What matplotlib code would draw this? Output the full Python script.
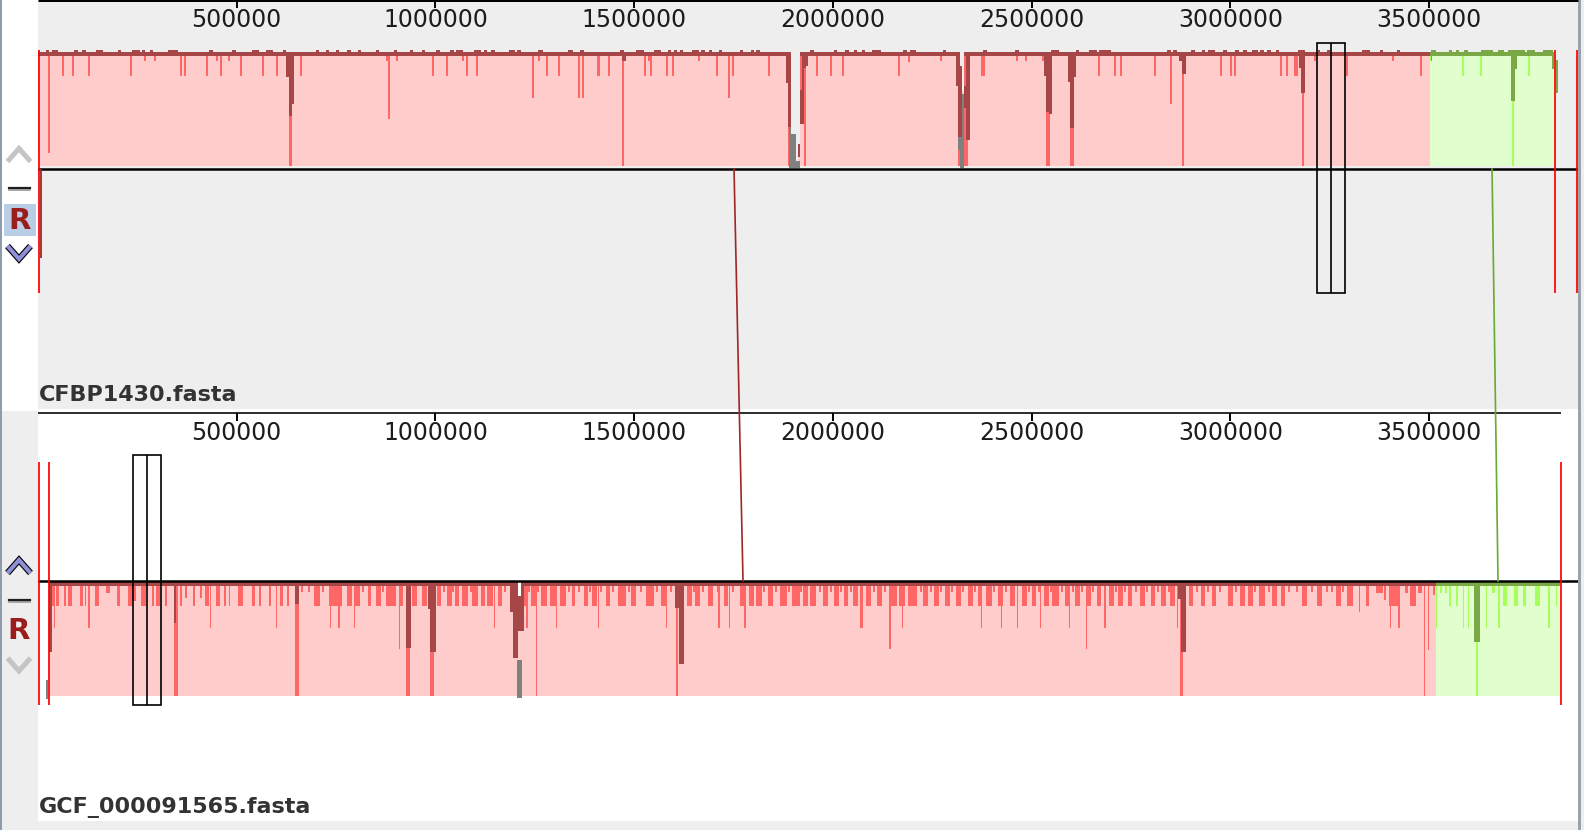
import matplotlib.pyplot as plt
from matplotlib.patches import Rectangle, ConnectionPatch
from matplotlib.transforms import offset_copy
import matplotlib.patheffects as pe

W, H = 1584, 830
DPI = 100

# ---------------- data (positions in kb) ----------------
tick_kb = [500, 1000, 1500, 2000, 2500, 3000, 3500]
tick_labels = ["500000", "1000000", "1500000", "2000000", "2500000", "3000000", "3500000"]
view_kb = 3874.6

names = ["CFBP1430.fasta", "GCF_000091565.fasta"]

# LCB boxes: start, end, colour
top_lcbs = [(0.0, 3502.3, "red"), (3502.3, 3814.3, "green")]
bot_lcbs = [(30.2, 3517.4, "red"), (3517.4, 3829.4, "green")]

# contig / chromosome boundaries
top_contigs = [3.0, 3816.8, 3872.1]
bot_contigs = [3.3, 28.2, 3831.9]

# short link stub at the start of the first genome (position, lower end)
top_stub = (8.0, -0.81)

# selection cursor
top_cursor = 3253.2
bot_cursor = 274.2
cursor_half = 36.0

# similarity drops hanging from the top of each block: position, depth, width
top_spk_x = [26.9, 62.1, 87.3, 127.6, 234.0, 269.2, 294.4, 359.0, 369.1, 425.2, 449.6, 460.4,
             479.8, 510.0, 565.3, 600.6, 635.3, 661.7, 877.3, 882.4, 902.5, 993.1, 1028.3, 1068.5,
             1078.6, 1103.8, 1244.7, 1260.5, 1279.9, 1310.1, 1360.4, 1370.5, 1410.2, 1436.6, 1471.1,
             1526.5, 1536.5, 1541.6, 1581.8, 1596.9, 1662.3, 1707.6, 1737.8, 1747.9, 1838.4, 1888.0,
             1919.7, 1930.0, 1959.2, 1994.4, 2024.6, 2165.5, 2190.7, 2271.2, 2317.2, 2334.8, 2377.6,
             2463.9, 2485.1, 2527.8, 2541.2, 2601.5, 2668.7, 2709.0, 2724.1, 2809.6, 2849.9, 2880.1,
             2975.7, 3000.8, 3010.9, 3126.6, 3141.7, 3165.1, 3182.0, 3212.2, 3292.7, 3408.4, 3478.9,
             3505.5, 3586.0, 3631.3, 3711.9, 3750.6]
top_spk_d = [0.89, 0.21, 0.21, 0.21, 0.21, 0.08, 0.08, 0.21, 0.21, 0.21, 0.08, 0.21,
             0.08, 0.21, 0.21, 0.21, 1.0, 0.21, 0.08, 0.59, 0.08, 0.21, 0.21, 0.08,
             0.21, 0.21, 0.40, 0.08, 0.21, 0.21, 0.40, 0.40, 0.21, 0.21, 1.0,
             0.21, 0.08, 0.21, 0.21, 0.21, 0.08, 0.21, 0.40, 0.21, 0.21, 1.0,
             0.33, 1.0, 0.21, 0.21, 0.21, 0.21, 0.09, 0.08, 1.0, 1.0, 0.21,
             0.08, 0.08, 0.08, 1.0, 1.0, 0.21, 0.21, 0.21, 0.21, 0.46, 1.0,
             0.21, 0.21, 0.21, 0.21, 0.21, 0.21, 1.0, 0.08, 0.21, 0.08, 0.21,
             0.08, 0.21, 0.21, 1.0, 0.21]
top_spk_w = [5.0, 5.0, 5.0, 5.0, 5.0, 5.0, 5.0, 5.0, 5.0, 5.0, 5.0, 5.0,
             5.0, 5.0, 5.0, 5.0, 7.5, 5.0, 5.0, 5.0, 5.0, 5.0, 5.0, 5.0,
             5.0, 5.0, 5.0, 5.0, 5.0, 5.0, 5.0, 5.0, 8.0, 5.0, 5.0,
             5.0, 5.0, 5.0, 5.0, 5.0, 5.0, 5.0, 5.0, 5.0, 5.0, 3.0,
             5.0, 5.0, 5.0, 5.0, 5.0, 5.0, 5.0, 5.0, 5.0, 10.0, 10.0,
             5.0, 5.0, 5.0, 10.0, 10.0, 5.0, 5.0, 5.0, 5.0, 5.0, 5.0,
             5.0, 5.0, 5.0, 5.0, 5.0, 10.0, 5.0, 5.0, 5.0, 5.0, 5.0,
             5.0, 5.0, 5.0, 5.0, 5.0]

# darker profile dips: start, end, from depth, to depth
top_dark = [(624.0, 630.3, 0, 0.22), (630.3, 639.1, 0, 0.56), (639.1, 644.1, 0, 0.46),
            (1469.3, 1479.4, 0, 0.08), (1882.0, 1887.0, 0, 0.27), (1887.0, 1893.8, 0, 0.66),
            (1912.2, 1917.2, 0.81, 0.92), (1917.2, 1922.2, 0.33, 0.63), (1922.2, 1927.3, 0, 0.63),
            (1927.3, 1932.3, 0, 0.14), (1932.3, 1937.3, 0, 0.12),
            (2309.7, 2314.7, 0, 0.30), (2314.7, 2324.8, 0, 0.75), (2329.8, 2334.8, 0.30, 0.49),
            (2334.8, 2344.9, 0, 0.77), (2531.1, 2538.6, 0, 0.21), (2536.1, 2543.7, 0, 0.53),
            (2543.7, 2551.2, 0, 0.54), (2591.5, 2599.0, 0, 0.26), (2596.5, 2606.6, 0, 0.67),
            (2601.5, 2611.6, 0, 0.22), (2870.8, 2878.3, 0, 0.08), (2878.3, 2888.4, 0, 0.19),
            (3172.7, 3177.7, 0, 0.14), (3177.7, 3187.8, 0, 0.36),
            (3503.5, 3507.3, 0, 0.08), (3705.3, 3720.4, 0, 0.15), (3706.8, 3716.9, 0, 0.43),
            (3809.2, 3814.3, 0, 0.15), (3819.3, 3824.3, 0.07, 0.36)]
top_gaps = [(1893.8, 1907.1, -0.03, 0.72), (1907.1, 1912.2, -0.03, 0.96), (1912.2, 1917.2, -0.03, 0.81),
            (2319.8, 2324.8, -0.03, 0.12), (2324.8, 2329.8, -0.03, 0.34)]
top_gray = [(1888.8, 1893.8, 0.66, 1.02), (1893.8, 1907.1, 0.72, 1.02), (1907.1, 1917.2, 0.96, 1.02),
            (2314.7, 2324.8, 0.75, 0.86), (2319.8, 2324.8, 0.86, 1.02), (2324.8, 2329.8, 0.37, 1.02)]
top_bump_x = [24.4, 42.8, 95.6, 115.7, 155.2, 204.6, 246.6, 264.9, 286.1, 339.7, 436.0, 493.1,
              547.7, 583.0, 620.7, 703.7, 728.9, 754.0, 782.5, 809.4, 854.7, 900.0, 939.2, 970.4,
              1006.4, 1041.6, 1061.0, 1106.3, 1125.4, 1145.5, 1192.6, 1211.0, 1264.8, 1340.3, 1368.0,
              1469.3, 1514.6, 1559.2, 1589.3, 1604.4, 1619.5, 1653.8, 1673.1, 1691.5, 1716.7, 1770.5,
              1797.2, 1811.5, 1947.4, 2007.0, 2036.2, 2057.4, 2077.5, 2110.2, 2181.4, 2200.8, 2281.3,
              2382.6, 2463.2, 2558.8, 2615.9, 2654.4, 2684.6, 2844.9, 2860.7, 2906.0, 2932.0, 2953.1,
              2986.6, 3016.7, 3036.8, 3061.2, 3079.6, 3097.2, 3119.1, 3179.5, 3223.0, 3246.4, 3341.2,
              3380.7, 3422.5, 3511.5, 3553.3, 3571.9, 3592.8, 3645.7, 3680.9, 3719.9, 3756.4, 3799.2]
top_bump_w = [8, 15, 8, 10, 18, 8, 20, 8, 8, 24, 10, 8,
              18, 18, 8, 8, 8, 8, 8, 8, 8, 8, 8, 8,
              10, 10, 18, 18, 8, 10, 14, 10, 14, 14, 10,
              10, 18, 18, 8, 8, 8, 18, 12, 8, 8, 8,
              8, 8, 10, 8, 10, 8, 8, 24, 8, 14, 8,
              8, 8, 22, 8, 18, 28, 10, 10, 8, 8, 18,
              8, 8, 8, 15, 8, 10, 8, 18, 6, 8, 20,
              8, 8, 12, 8, 8, 10, 32, 16, 42, 20, 25]

bot_spk_x = [37.7, 41.0, 48.6, 67.9, 80.5, 109.9, 119.1, 128.3, 148.4, 176.1, 202.1, 231.5, 241.5,
             265.9, 289.3, 301.9, 322.0, 347.2, 359.8, 372.4, 393.2, 410.1, 425.2, 434.5, 453.6,
             470.5, 481.3, 510.3, 541.7, 558.6, 583.7, 600.6, 612.1, 629.0, 650.9,
             735.1, 757.2, 796.3, 910.3, 931.0, 992.0, 1148.4, 1230.1, 1253.9, 1305.0, 1410.4, 1580.5,
             1607.8, 1713.2, 1740.5, 1778.4, 2071.9, 2143.7, 2176.0, 2373.3, 2424.3, 2463.5, 2523.0, 2594.5,
             2638.7, 2684.6, 2866.6, 2877.2,
             3304.3, 3324.4, 3345.5, 3375.7, 3388.3, 3410.9, 3403.4, 3424.3, 3443.6, 3459.5, 3477.1,
             3488.9, 3498.0, 3512.3, 3519.1, 3529.2, 3542.0, 3552.6, 3569.4, 3586.1, 3598.6, 3620.5,
             3644.9, 3661.5, 3675.9, 3691.0, 3717.9, 3739.5, 3773.2, 3801.7, 3821.0]
bot_spk_d = [0.21, 0.40, 0.21, 0.21, 0.21, 0.21, 0.21, 0.40, 0.21, 0.10, 0.21, 0.21, 0.17,
             0.21, 0.21, 0.21, 0.21, 1.0, 0.21, 0.14, 0.21, 0.14, 0.21, 0.40, 0.21,
             0.21, 0.21, 0.21, 0.21, 0.21, 0.21, 0.40, 0.21, 0.21, 1.0,
             0.40, 0.40, 0.40, 0.59, 1.0, 1.0, 0.40, 0.40, 1.0, 0.40, 0.40, 0.40,
             1.0, 0.40, 0.40, 0.40, 0.40, 0.59, 0.40, 0.40, 0.40, 0.40, 0.40, 0.40,
             0.59, 0.40, 0.40, 1.0,
             0.21, 0.26, 0.21, 0.10, 0.16, 0.21, 0.40, 0.40, 0.10, 0.21, 0.10,
             1.0, 0.60, 0.11, 0.40, 0.10, 0.10, 0.21, 0.21, 0.40, 0.40, 1.0,
             0.40, 0.10, 0.40, 0.21, 0.21, 0.21, 0.21, 0.40, 0.21]
bot_spk_w = [6, 3, 6, 5, 9, 9, 4, 3, 9, 11, 6, 9, 9,
             11, 7, 9, 4, 10, 7, 6, 6, 6, 9, 3, 9,
             6, 4, 13, 9, 6, 6, 3, 7, 5, 10,
             3, 3, 3, 3, 10, 10, 3, 3, 3, 3, 3, 3,
             7, 3, 3, 5, 7, 3, 3, 3, 3, 3, 3, 3,
             3, 3, 3, 7,
             6, 3, 9, 18, 4, 25, 3, 3, 9, 15, 9,
             4, 4, 6, 3, 4, 6, 5, 5, 3, 3, 5,
             3, 9, 3, 9, 9, 9, 13, 3, 4]

# the dense field of ~0.21 deep drops along the middle of the second genome
bot_field_x = [701.0, 748.7, 784.4, 804.8, 833.7, 855.9, 888.2, 913.7, 947.7, 971.5, 1009.0, 1036.2,
               1054.9, 1075.3, 1099.1, 1119.5, 1136.5, 1162.1, 1226.7, 1247.1, 1272.6, 1296.5, 1320.3,
               1347.5, 1378.1, 1400.2, 1434.3, 1470.0, 1498.9, 1539.7, 1573.8, 1638.4, 1658.8, 1692.8,
               1730.2, 1771.1, 1794.9, 1813.6, 1842.5, 1876.6, 1907.2, 1931.0, 1949.7, 1982.0, 2009.3,
               2033.1, 2056.9, 2089.2, 2118.1, 2152.2, 2174.3, 2199.8, 2233.8, 2261.0, 2288.3, 2315.5,
               2346.1, 2369.9, 2392.0, 2420.9, 2451.6, 2482.2, 2506.0, 2536.6, 2560.4, 2591.0, 2614.9,
               2642.1, 2669.3, 2701.6, 2723.7, 2747.5, 2778.2, 2805.4, 2832.6, 2854.7, 2900.7, 2931.3,
               2958.5, 2999.4, 3030.0, 3050.4, 3079.3, 3111.7, 3132.1, 3186.5, 3224.0, 3271.6, 3298.8]
bot_field_w = [15, 34, 12, 12, 9, 12, 25, 10, 12, 12, 12, 12,
               9, 15, 15, 9, 15, 12, 12, 12, 15, 15, 15,
               9, 9, 12, 12, 20, 12, 18, 12, 12, 12, 12,
               10, 12, 12, 15, 12, 18, 18, 12, 15, 12, 12,
               12, 12, 12, 12, 18, 15, 23, 12, 12, 12, 12,
               12, 12, 15, 12, 12, 12, 12, 12, 18, 12, 12,
               12, 12, 12, 12, 12, 12, 12, 12, 14, 12, 12,
               12, 12, 12, 12, 15, 12, 12, 12, 12, 12, 12]
bot_field_depth = 0.21
bot_short_x = [663.6, 680.6, 718.1, 816.7, 867.8, 1020.9, 1044.7, 1088.9, 1174.0, 1235.2, 1259.0, 1335.6,
               1361.1, 1388.3, 1415.5, 1446.2, 1487.0, 1517.6, 1558.4, 1592.5, 1650.3, 1674.1, 1709.9,
               1749.0, 1827.2, 1857.9, 1888.5, 1919.1, 1966.7, 1994.0, 2021.2, 2045.0, 2102.8, 2130.0,
               2221.9, 2245.7, 2272.9, 2300.2, 2327.4, 2358.0, 2405.7, 2436.3, 2494.1, 2517.9, 2548.6,
               2575.8, 2603.0, 2626.8, 2654.0, 2711.9, 2735.7, 2762.9, 2790.1, 2817.3, 2844.6, 2916.0,
               2943.2, 2973.9, 3014.7, 3062.3, 3096.4, 3147.4, 3167.8, 3205.2, 3242.7, 3256.3, 3283.5]
bot_short_depth = 0.09

bot_dark = [(28.4, 35.2, 0, 0.61), (342.2, 347.2, 0, 0.36), (646.6, 656.8, 0, 0.19),
            (925.6, 939.2, 0, 0.58), (980.2, 987.0, 0, 0.24), (987.0, 1000.5, 0, 0.61),
            (1187.6, 1194.4, 0, 0.26), (1194.4, 1208.0, 0, 0.67), (1208.0, 1221.6, 0, 0.43),
            (1602.7, 1612.9, 0, 0.23), (1612.9, 1624.8, 0, 0.72),
            (2868.6, 2875.2, 0, 0.15), (2875.2, 2888.8, 0, 0.61), (3613.0, 3628.1, 0, 0.53)]
bot_gaps = [(1208.0, 1214.8, -0.03, 0.12)]
bot_gray = [(20.1, 24.4, 0.86, 1.03), (1204.6, 1218.2, 0.68, 1.02)]

pal = {"red": {"light": "#FFCCCC", "mid": "#FF6666", "dark": "#A64646", "link": "#A02626"},
       "green": {"light": "#E0FFCC", "mid": "#A8FF5C", "dark": "#7AA846", "link": "#6AAA2E"}}


def draw_track(ax, lcbs, top, spike_groups, darks, grays, gaps, bump_x, bump_w, bg):
    def key_at(x):
        k = lcbs[0][2]
        for s, e, kk in lcbs:
            if x >= s:
                k = kk
        return k

    for s, e, k in lcbs:
        ax.bar(s, 1, width=e - s, bottom=top - 1, align='edge', color=pal[k]["light"], lw=0,
               antialiased=False, zorder=1)
    for xs, ds, ws in spike_groups:
        if isinstance(ds, float):
            ds = [ds] * len(xs)
        ax.bar(xs, ds, width=ws, bottom=[top - d for d in ds],
               color=[pal[key_at(x)]["mid"] for x in xs], lw=0, antialiased=False, zorder=2)
    band = 0.038
    for s, e, k in lcbs:
        ax.bar(s, band, width=e - s, bottom=top - band, align='edge', color=pal[k]["dark"], lw=0,
               antialiased=False, zorder=3)
    if bump_x:
        ax.bar(bump_x, 0.02, width=bump_w, bottom=top,
               color=[pal[key_at(x)]["dark"] for x in bump_x], lw=0, antialiased=False, zorder=3)
    for x0, x1, d0, d1 in darks:
        ax.bar(x0, d1 - d0, width=x1 - x0, bottom=top - d1, align='edge',
               color=pal[key_at(x0)]["dark"], lw=0, antialiased=False, zorder=3)
    for x0, x1, d0, d1 in gaps:
        ax.bar(x0, d1 - d0, width=x1 - x0, bottom=top - d1, align='edge', color=bg, lw=0,
               antialiased=False, zorder=4)
    for x0, x1, d0, d1 in grays:
        ax.bar(x0, d1 - d0, width=x1 - x0, bottom=top - d1, align='edge', color="#808080", lw=0,
               antialiased=False, zorder=5)


fig = plt.figure(figsize=(W / DPI, H / DPI), dpi=DPI)

# window chrome, drawn in pixel units
ui = fig.add_axes([0, 0, 1, 1], zorder=-1)
ui.set_xlim(0, W)
ui.set_ylim(H, 0)
ui.axis('off')
ui.add_patch(Rectangle((0, 0), W, H, color="#EEEEEE", lw=0))
ui.add_patch(Rectangle((2, 0), 36, 409, color="white", lw=0))
ui.add_patch(Rectangle((2, 409), 1576, 2, color="white", lw=0))
ui.add_patch(Rectangle((38, 411), 1540, 3, color="white", lw=0))
ui.add_patch(Rectangle((0, 0), 2, H, color="#8D9BAA", lw=0))
ui.add_patch(Rectangle((1578, 0), 3, H, color="#9AA3AD", lw=0))


def chevron(cx, cy, up, enabled):
    s = -1 if up else 1
    xs = [cx - 11.5, cx, cx + 11.5]
    ys = [cy - s * 6.5, cy + s * 6.5, cy - s * 6.5]
    if enabled:
        ui.plot(xs, ys, color="#9090D8", lw=3.0, solid_joinstyle='miter', solid_capstyle='butt',
                path_effects=[pe.Stroke(linewidth=4.6, foreground="black"), pe.Normal()])
    else:
        ui.plot(xs, ys, color="#C4C4C4", lw=3.6, solid_joinstyle='miter', solid_capstyle='butt')


def minus(cy):
    ui.plot([9, 30], [cy + 1.5, cy + 1.5], color="#9A9A9A", lw=1.2)
    ui.plot([9, 30], [cy - 0.5, cy - 0.5], color="#1E1E1E", lw=1.6)


chevron(19, 155, True, False)
minus(189)
ui.add_patch(Rectangle((4, 204), 31.7, 31.7, color="#B9CDE5", lw=0))
ui.text(19.8, 220.5, "R", ha='center', va='center', fontsize=21, fontweight='bold', color="#9B1C1C")
chevron(19, 252.5, False, True)

chevron(19, 566.5, True, True)
minus(600.5)
ui.text(18.6, 631, "R", ha='center', va='center', fontsize=21, fontweight='bold', color="#9B1C1C")
chevron(19, 664.5, False, False)

# panels: top genome box spans y in [0, 1], bottom genome box spans [-1, 0]
ax_top = fig.add_axes([38 / W, (H - 409) / H, 1540 / W, 409 / H])
ax_bot = fig.add_axes([38 / W, (H - 821) / H, 1540 / W, 408 / H])
ax_top.set_facecolor("#EEEEEE")
ax_bot.set_facecolor("white")

top_spikes = [(top_spk_x, top_spk_d, top_spk_w)]
bot_spikes = [(bot_short_x, bot_short_depth, 5.0),
              (bot_field_x, bot_field_depth, bot_field_w),
              (bot_spk_x, bot_spk_d, bot_spk_w)]

panels = [
    (ax_top, top_lcbs, 1.0, -0.024, top_contigs, top_cursor, top_spikes,
     top_dark, top_gray, top_gaps, top_bump_x, top_bump_w, "#EEEEEE", 3.0, 1.0, names[0],
     (-(409 - 166) / 114, 166 / 114)),
    (ax_bot, bot_lcbs, 0.0, 0.007, bot_contigs, bot_cursor, bot_spikes,
     bot_dark, bot_gray, bot_gaps, [], [], "white", 1.6, (1561 - 38) / 1540, names[1],
     (-(821 - 582) / 114, (582 - 413) / 114)),
]

for (ax, lcbs, top, center, contigs, cursor, spk, darks, grays, gaps, bx, bw, bg, spw, rule_end,
     name, ylim) in panels:
    draw_track(ax, lcbs, top, spk, darks, grays, gaps, bx, bw, bg)
    ax.axhline(center, color="black", lw=1.8, zorder=6)
    ax.vlines(contigs, center - 1.09, center + 1.045, color="#FF0000", lw=1.25, zorder=7)
    ax.add_patch(Rectangle((cursor - cursor_half, center - 1.087), 2 * cursor_half, 2.194,
                           fill=False, ec="black", lw=1.2, zorder=8))
    ax.vlines([cursor], center - 1.087, center + 1.107, color="black", lw=1.2, zorder=8)

    ax.set_xlim(0, view_kb)
    ax.set_ylim(*ylim)
    for side in ["left", "right", "bottom", "top"]:
        ax.spines[side].set_visible(False)
    ax.plot([0, rule_end], [1, 1], transform=ax.transAxes, color="black", lw=spw / 1.389,
            clip_on=False, solid_capstyle='butt', zorder=9)
    ax.set_yticks([])
    ax.set_xticks(tick_kb)
    ax.xaxis.set_ticks_position('top')
    ax.tick_params(axis='x', direction='in', length=5.8, width=1.4, color="black",
                   labeltop=False, labelbottom=False)
    lab_tr = offset_copy(ax.get_xaxis_transform(), fig=fig, y=-27.3, units='dots')
    for t, lab in zip(tick_kb, tick_labels):
        ax.text(t, 1, lab, transform=lab_tr, ha='center', va='baseline', fontsize=17, color="#1C1C1C")
    name_tr = offset_copy(ax.transAxes, fig=fig, x=0.5, y=8.0, units='dots')
    ax.text(0, 0, name, transform=name_tr, ha='left', va='baseline', fontsize=16,
            fontweight='bold', color="#333333")

ax_top.vlines([top_stub[0]], top_stub[1], -0.024, color=pal["red"]["link"], lw=1.3, zorder=8)

# lines joining matching blocks (centre of each LCB)
for (s1, e1, k), (s2, e2, _) in zip(top_lcbs, bot_lcbs):
    con = ConnectionPatch(xyA=((s1 + e1) / 2, -0.024), coordsA=ax_top.transData,
                          xyB=((s2 + e2) / 2, 0.007), coordsB=ax_bot.transData,
                          color=pal[k]["link"], lw=1.2, zorder=5)
    fig.add_artist(con)

fig.savefig("out.png", dpi=DPI)
